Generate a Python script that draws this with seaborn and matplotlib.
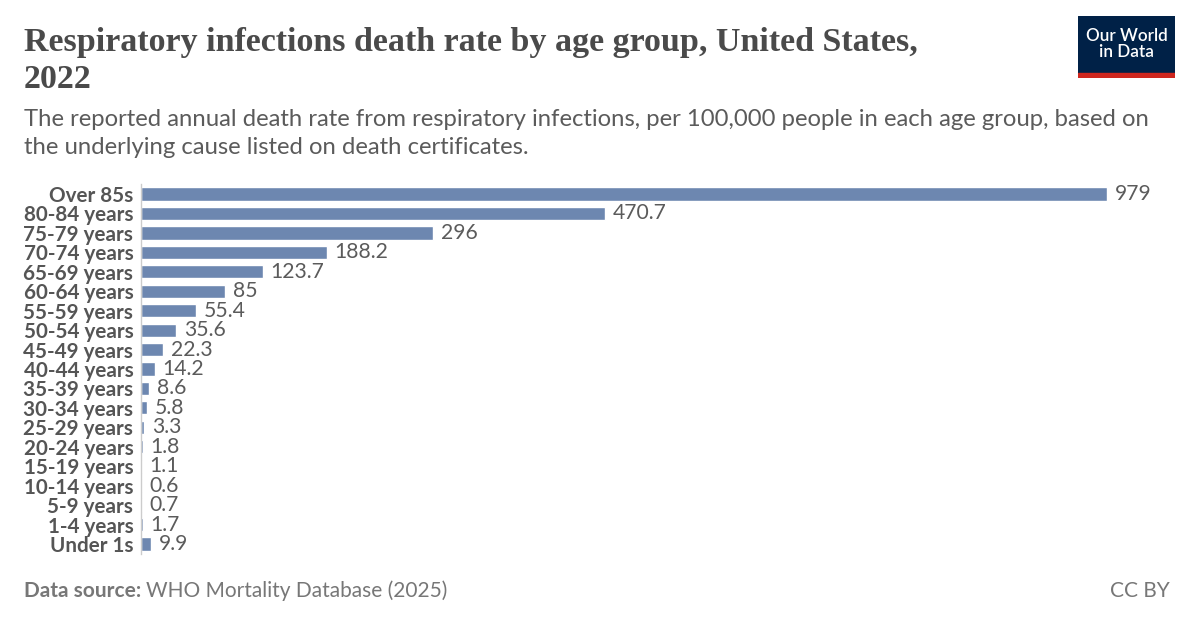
import matplotlib
matplotlib.use("Agg")
import matplotlib.pyplot as plt
import seaborn as sns
import pandas as pd
from matplotlib.patches import Rectangle

age_groups = ["Over 85s", "80-84 years", "75-79 years", "70-74 years", "65-69 years",
              "60-64 years", "55-59 years", "50-54 years", "45-49 years", "40-44 years",
              "35-39 years", "30-34 years", "25-29 years", "20-24 years", "15-19 years",
              "10-14 years", "5-9 years", "1-4 years", "Under 1s"]
death_rates = [979, 470.7, 296, 188.2, 123.7, 85, 55.4, 35.6, 22.3, 14.2,
               8.6, 5.8, 3.3, 1.8, 1.1, 0.6, 0.7, 1.7, 9.9]
value_labels = ["979", "470.7", "296", "188.2", "123.7", "85", "55.4", "35.6", "22.3", "14.2",
                "8.6", "5.8", "3.3", "1.8", "1.1", "0.6", "0.7", "1.7", "9.9"]

df = pd.DataFrame({"age": age_groups, "rate": death_rates})

sns.set_style("white")
plt.rcParams["font.family"] = ["Lato", "DejaVu Sans"]

W, H = 1200, 627
fig = plt.figure(figsize=(W / 100, H / 100), dpi=100)
ax = fig.add_axes([141 / W, 1 - 553.7 / H, (1107 - 141) / W, (553.7 - 184.3) / H])

sns.barplot(data=df, x="rate", y="age", color="#6d87b0", saturation=1, width=0.68, ax=ax)
ax.set_xlim(0, 979)
ax.set_ylim(len(age_groups) - 0.5, -0.5)

for i, (v, lab) in enumerate(zip(death_rates, value_labels)):
    ax.annotate(lab, (v, i), xytext=(5.5, 0), textcoords="offset points",
                va="center", ha="left", fontsize=15.2, color="#5b5b5b")

ax.set_xlabel("")
ax.set_ylabel("")
ax.set_xticks([])
for s in ["top", "right", "bottom"]:
    ax.spines[s].set_visible(False)
ax.spines["left"].set_color("#cccccc")
ax.spines["left"].set_linewidth(1)
ax.tick_params(axis="y", length=0, pad=5.5)
for t in ax.get_yticklabels():
    t.set_fontsize(14.9)
    t.set_fontweight("bold")
    t.set_color("#555555")

# title and subtitle
fig.text(24 / W, 1 - 27 / H, "Respiratory infections death rate by age group, United States,\n2022",
         family=["Liberation Serif", "DejaVu Serif"], fontweight="bold", fontsize=24.5,
         color="#4a4a4a", va="top", ha="left", linespacing=1.25)
fig.text(24 / W, 1 - 109 / H,
         "The reported annual death rate from respiratory infections, per 100,000 people in each age group, based on\n"
         "the underlying cause listed on death certificates.",
         fontsize=17.2, color="#5b5b5b", va="top", ha="left", linespacing=1.42)

# logo
logo = fig.add_axes([1078 / W, 1 - 78 / H, 97 / W, 62 / H])
logo.set_xlim(0, 1)
logo.set_ylim(0, 1)
logo.axis("off")
logo.add_patch(Rectangle((0, 0), 1, 1, color="#002147"))
logo.add_patch(Rectangle((0, 0), 1, 0.08, color="#ce261e"))
logo.text(0.5, 0.55, "Our World\nin Data", color="white", ha="center", va="center",
          fontsize=12.3, linespacing=1.0, fontweight="semibold")

# footer
src = fig.text(24 / W, 1 - 591 / H, "Data source:", fontweight="bold", fontsize=15,
               color="#777777", va="center", ha="left")
fig.canvas.draw()
bb = src.get_window_extent()
fig.text((bb.x1 + 5) / W, 1 - 591 / H, "WHO Mortality Database (2025)", fontsize=15,
         color="#777777", va="center", ha="left")
fig.text(1170 / W, 1 - 591 / H, "CC BY", fontsize=15, color="#777777", va="center", ha="right")

fig.savefig("out.png", dpi=100, facecolor="white")
